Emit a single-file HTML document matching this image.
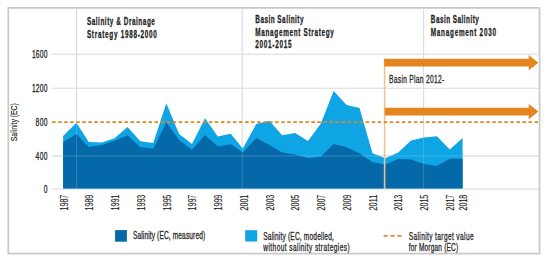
<!DOCTYPE html>
<html><head><meta charset="utf-8"><style>
html,body{margin:0;padding:0;background:#fff;width:550px;height:262px;overflow:hidden}
svg{display:block;font-family:"Liberation Sans", sans-serif}
</style></head><body>
<svg width="550" height="262" viewBox="0 0 550 262">
<rect x="8.3" y="7.9" width="531.3" height="245.7" fill="none" stroke="#c8c8c8" stroke-width="1.7"/>
<line x1="52" y1="54.2" x2="539" y2="54.2" stroke="#d6d6d6" stroke-width="1.1" opacity="1"/>
<line x1="52" y1="88.3" x2="539" y2="88.3" stroke="#d6d6d6" stroke-width="1.1" opacity="1"/>
<line x1="52" y1="155.9" x2="539" y2="155.9" stroke="#d6d6d6" stroke-width="1.1" opacity="1"/>
<line x1="52" y1="189.0" x2="539" y2="189.0" stroke="#d6d6d6" stroke-width="1.1" opacity="1"/>
<line x1="76.6" y1="8.5" x2="76.6" y2="189" stroke="#d6d6d6" stroke-width="1.1" opacity="1"/>
<line x1="242.2" y1="8.5" x2="242.2" y2="189" stroke="#d6d6d6" stroke-width="1.1" opacity="1"/>
<line x1="423.6" y1="8.5" x2="423.6" y2="189" stroke="#d6d6d6" stroke-width="1.1" opacity="1"/>
<polygon points="63.1,188.6 63.1,136.0 76.4,122.7 88.8,142.1 101.7,142.5 114.6,138.2 127.5,127.0 140.4,141.3 153.3,143.0 166.3,103.2 179.1,134.0 192.0,144.0 205.0,118.2 217.8,136.6 230.7,133.8 242.8,148.4 256.2,124.1 269.3,120.8 282.2,135.3 295.1,133.0 308.0,141.0 320.9,123.5 333.6,91.0 346.6,105.1 359.5,108.0 372.5,153.2 385.3,158.2 398.2,152.5 411.1,140.5 424.0,137.5 436.9,136.2 449.8,149.6 462.6,137.9 462.6,188.6" fill="#0fa4e3"/>
<polygon points="63.1,188.6 63.1,142.2 76.4,133.9 88.8,147.1 101.7,145.0 114.6,140.8 127.5,135.3 140.4,147.3 153.3,148.7 166.3,122.5 179.1,140.0 192.0,149.8 205.0,134.9 217.8,146.4 230.7,144.2 242.8,152.2 256.2,138.1 269.3,145.0 282.2,152.5 295.1,154.5 308.0,158.0 320.9,156.8 333.6,143.9 346.6,147.2 359.5,153.2 372.5,162.3 385.3,164.6 398.2,159.0 411.1,159.6 424.0,164.1 436.9,166.0 449.8,158.7 462.6,158.7 462.6,188.6" fill="#0568a8"/>
<line x1="52" y1="54.2" x2="539" y2="54.2" stroke="#ffffff" stroke-width="1.1" opacity="0.16"/>
<line x1="52" y1="88.3" x2="539" y2="88.3" stroke="#ffffff" stroke-width="1.1" opacity="0.16"/>
<line x1="52" y1="155.9" x2="539" y2="155.9" stroke="#ffffff" stroke-width="1.1" opacity="0.16"/>
<line x1="52" y1="189.0" x2="539" y2="189.0" stroke="#ffffff" stroke-width="1.1" opacity="0.16"/>
<line x1="76.6" y1="8.5" x2="76.6" y2="189" stroke="#ffffff" stroke-width="1.1" opacity="0.16"/>
<line x1="242.2" y1="8.5" x2="242.2" y2="189" stroke="#ffffff" stroke-width="1.1" opacity="0.16"/>
<line x1="423.6" y1="8.5" x2="423.6" y2="189" stroke="#ffffff" stroke-width="1.1" opacity="0.16"/>
<line x1="384.6" y1="58.5" x2="384.6" y2="189" stroke="#ecc290" stroke-width="1.6"/>
<line x1="52.1" y1="122.1" x2="539" y2="122.1" stroke="#e3861f" stroke-width="1.75" stroke-dasharray="3.5 2.53"/>
<polygon points="384.2,58.800000000000004 528.7,58.800000000000004 528.7,55.1  538.4,62.7 528.7,70.3 528.7,66.60000000000001 384.2,66.60000000000001" fill="#e3861f"/>
<polygon points="384.8,107.69999999999999 528.7,107.69999999999999 528.7,104.0  538.4,111.6 528.7,119.19999999999999 528.7,115.5 384.8,115.5" fill="#e3861f"/>
<text transform="translate(86.9,24.8) scale(0.58,1)" font-size="11" font-weight="bold" fill="#222222" textLength="117.24" lengthAdjust="spacing" text-anchor="start"  stroke="#222222" stroke-width="0.28">Salinity &amp; Drainage</text>
<text transform="translate(86.9,37.8) scale(0.58,1)" font-size="11" font-weight="bold" fill="#222222" textLength="120.69" lengthAdjust="spacing" text-anchor="start"  stroke="#222222" stroke-width="0.28">Strategy 1988-2000</text>
<text transform="translate(255.3,23) scale(0.58,1)" font-size="11" font-weight="bold" fill="#222222" textLength="83.10" lengthAdjust="spacing" text-anchor="start"  stroke="#222222" stroke-width="0.28">Basin Salinity</text>
<text transform="translate(255.3,35.6) scale(0.58,1)" font-size="11" font-weight="bold" fill="#222222" textLength="135.52" lengthAdjust="spacing" text-anchor="start"  stroke="#222222" stroke-width="0.28">Management Strategy</text>
<text transform="translate(255.3,48.2) scale(0.58,1)" font-size="11" font-weight="bold" fill="#222222" textLength="62.41" lengthAdjust="spacing" text-anchor="start"  stroke="#222222" stroke-width="0.28">2001-2015</text>
<text transform="translate(430.8,23) scale(0.58,1)" font-size="11" font-weight="bold" fill="#222222" textLength="82.76" lengthAdjust="spacing" text-anchor="start"  stroke="#222222" stroke-width="0.28">Basin Salinity</text>
<text transform="translate(430.8,35.6) scale(0.58,1)" font-size="11" font-weight="bold" fill="#222222" textLength="112.41" lengthAdjust="spacing" text-anchor="start"  stroke="#222222" stroke-width="0.28">Management 2030</text>
<text transform="translate(389,83.1) scale(0.62,1)" font-size="10.8" font-weight="normal" fill="#222222" textLength="89.19" lengthAdjust="spacing" text-anchor="start"  stroke="#222222" stroke-width="0.28">Basin Plan 2012-</text>
<text transform="translate(47.4,57.6) scale(0.62,1)" font-size="10.8" font-weight="normal" fill="#222222" textLength="25.00" lengthAdjust="spacing" text-anchor="end"  stroke="#222222" stroke-width="0.28">1600</text>
<text transform="translate(47.4,91.7) scale(0.62,1)" font-size="10.8" font-weight="normal" fill="#222222" textLength="25.00" lengthAdjust="spacing" text-anchor="end"  stroke="#222222" stroke-width="0.28">1200</text>
<text transform="translate(47.4,125.8) scale(0.62,1)" font-size="10.8" font-weight="normal" fill="#222222" textLength="19.03" lengthAdjust="spacing" text-anchor="end"  stroke="#222222" stroke-width="0.28">800</text>
<text transform="translate(47.4,159.6) scale(0.62,1)" font-size="10.8" font-weight="normal" fill="#222222" textLength="19.03" lengthAdjust="spacing" text-anchor="end"  stroke="#222222" stroke-width="0.28">400</text>
<text transform="translate(47.4,192.8) scale(0.62,1)" font-size="10.8" font-weight="normal" fill="#222222" textLength="6.45" lengthAdjust="spacing" text-anchor="end"  stroke="#222222" stroke-width="0.28">0</text>
<text transform="translate(16.8,141.2) rotate(-90)" font-size="8.6" fill="#222222" stroke="#222222" stroke-width="0.15" textLength="38" lengthAdjust="spacingAndGlyphs">Salinity (EC)</text>
<text transform="translate(67.70,210.5) rotate(-90)" font-size="10.6" fill="#222222" stroke="#222222" stroke-width="0.12" textLength="15.8" lengthAdjust="spacingAndGlyphs">1987</text>
<text transform="translate(93.44,210.5) rotate(-90)" font-size="10.6" fill="#222222" stroke="#222222" stroke-width="0.12" textLength="15.8" lengthAdjust="spacingAndGlyphs">1989</text>
<text transform="translate(119.18,210.5) rotate(-90)" font-size="10.6" fill="#222222" stroke="#222222" stroke-width="0.12" textLength="15.8" lengthAdjust="spacingAndGlyphs">1991</text>
<text transform="translate(144.92,210.5) rotate(-90)" font-size="10.6" fill="#222222" stroke="#222222" stroke-width="0.12" textLength="15.8" lengthAdjust="spacingAndGlyphs">1993</text>
<text transform="translate(170.66,210.5) rotate(-90)" font-size="10.6" fill="#222222" stroke="#222222" stroke-width="0.12" textLength="15.8" lengthAdjust="spacingAndGlyphs">1995</text>
<text transform="translate(196.40,210.5) rotate(-90)" font-size="10.6" fill="#222222" stroke="#222222" stroke-width="0.12" textLength="15.8" lengthAdjust="spacingAndGlyphs">1997</text>
<text transform="translate(222.14,210.5) rotate(-90)" font-size="10.6" fill="#222222" stroke="#222222" stroke-width="0.12" textLength="15.8" lengthAdjust="spacingAndGlyphs">1999</text>
<text transform="translate(247.88,210.5) rotate(-90)" font-size="10.6" fill="#222222" stroke="#222222" stroke-width="0.12" textLength="15.8" lengthAdjust="spacingAndGlyphs">2001</text>
<text transform="translate(273.62,210.5) rotate(-90)" font-size="10.6" fill="#222222" stroke="#222222" stroke-width="0.12" textLength="15.8" lengthAdjust="spacingAndGlyphs">2003</text>
<text transform="translate(299.36,210.5) rotate(-90)" font-size="10.6" fill="#222222" stroke="#222222" stroke-width="0.12" textLength="15.8" lengthAdjust="spacingAndGlyphs">2005</text>
<text transform="translate(325.10,210.5) rotate(-90)" font-size="10.6" fill="#222222" stroke="#222222" stroke-width="0.12" textLength="15.8" lengthAdjust="spacingAndGlyphs">2007</text>
<text transform="translate(350.84,210.5) rotate(-90)" font-size="10.6" fill="#222222" stroke="#222222" stroke-width="0.12" textLength="15.8" lengthAdjust="spacingAndGlyphs">2009</text>
<text transform="translate(376.58,210.5) rotate(-90)" font-size="10.6" fill="#222222" stroke="#222222" stroke-width="0.12" textLength="15.8" lengthAdjust="spacingAndGlyphs">2011</text>
<text transform="translate(402.32,210.5) rotate(-90)" font-size="10.6" fill="#222222" stroke="#222222" stroke-width="0.12" textLength="15.8" lengthAdjust="spacingAndGlyphs">2013</text>
<text transform="translate(428.06,210.5) rotate(-90)" font-size="10.6" fill="#222222" stroke="#222222" stroke-width="0.12" textLength="15.8" lengthAdjust="spacingAndGlyphs">2015</text>
<text transform="translate(453.80,210.5) rotate(-90)" font-size="10.6" fill="#222222" stroke="#222222" stroke-width="0.12" textLength="15.8" lengthAdjust="spacingAndGlyphs">2017</text>
<text transform="translate(466.67,210.5) rotate(-90)" font-size="10.6" fill="#222222" stroke="#222222" stroke-width="0.12" textLength="15.8" lengthAdjust="spacingAndGlyphs">2018</text>
<rect x="115.1" y="230.1" width="11.8" height="11.6" fill="#0568a8"/>
<text transform="translate(132.9,239.2) scale(0.62,1)" font-size="10.6" font-weight="normal" fill="#2b2b2b" textLength="116.61" lengthAdjust="spacing" text-anchor="start"  stroke="#2b2b2b" stroke-width="0.33">Salinity (EC, measured)</text>
<rect x="245.2" y="230.2" width="12" height="11.3" fill="#0fa4e3"/>
<text transform="translate(263.3,239.9) scale(0.62,1)" font-size="10.6" font-weight="normal" fill="#2b2b2b" textLength="113.71" lengthAdjust="spacing" text-anchor="start"  stroke="#2b2b2b" stroke-width="0.33">Salinity (EC, modelled,</text>
<text transform="translate(263.3,250.8) scale(0.62,1)" font-size="10.6" font-weight="normal" fill="#2b2b2b" textLength="139.35" lengthAdjust="spacing" text-anchor="start"  stroke="#2b2b2b" stroke-width="0.33">without salinity strategies)</text>
<line x1="383.6" y1="235.9" x2="402" y2="235.9" stroke="#e3861f" stroke-width="1.9" stroke-dasharray="4 3"/>
<text transform="translate(408.7,239.5) scale(0.62,1)" font-size="10.6" font-weight="normal" fill="#2b2b2b" textLength="104.68" lengthAdjust="spacing" text-anchor="start"  stroke="#2b2b2b" stroke-width="0.33">Salinity target value</text>
<text transform="translate(408.7,251) scale(0.62,1)" font-size="10.6" font-weight="normal" fill="#2b2b2b" textLength="79.84" lengthAdjust="spacing" text-anchor="start"  stroke="#2b2b2b" stroke-width="0.33">for Morgan (EC)</text>
</svg>
</body></html>
